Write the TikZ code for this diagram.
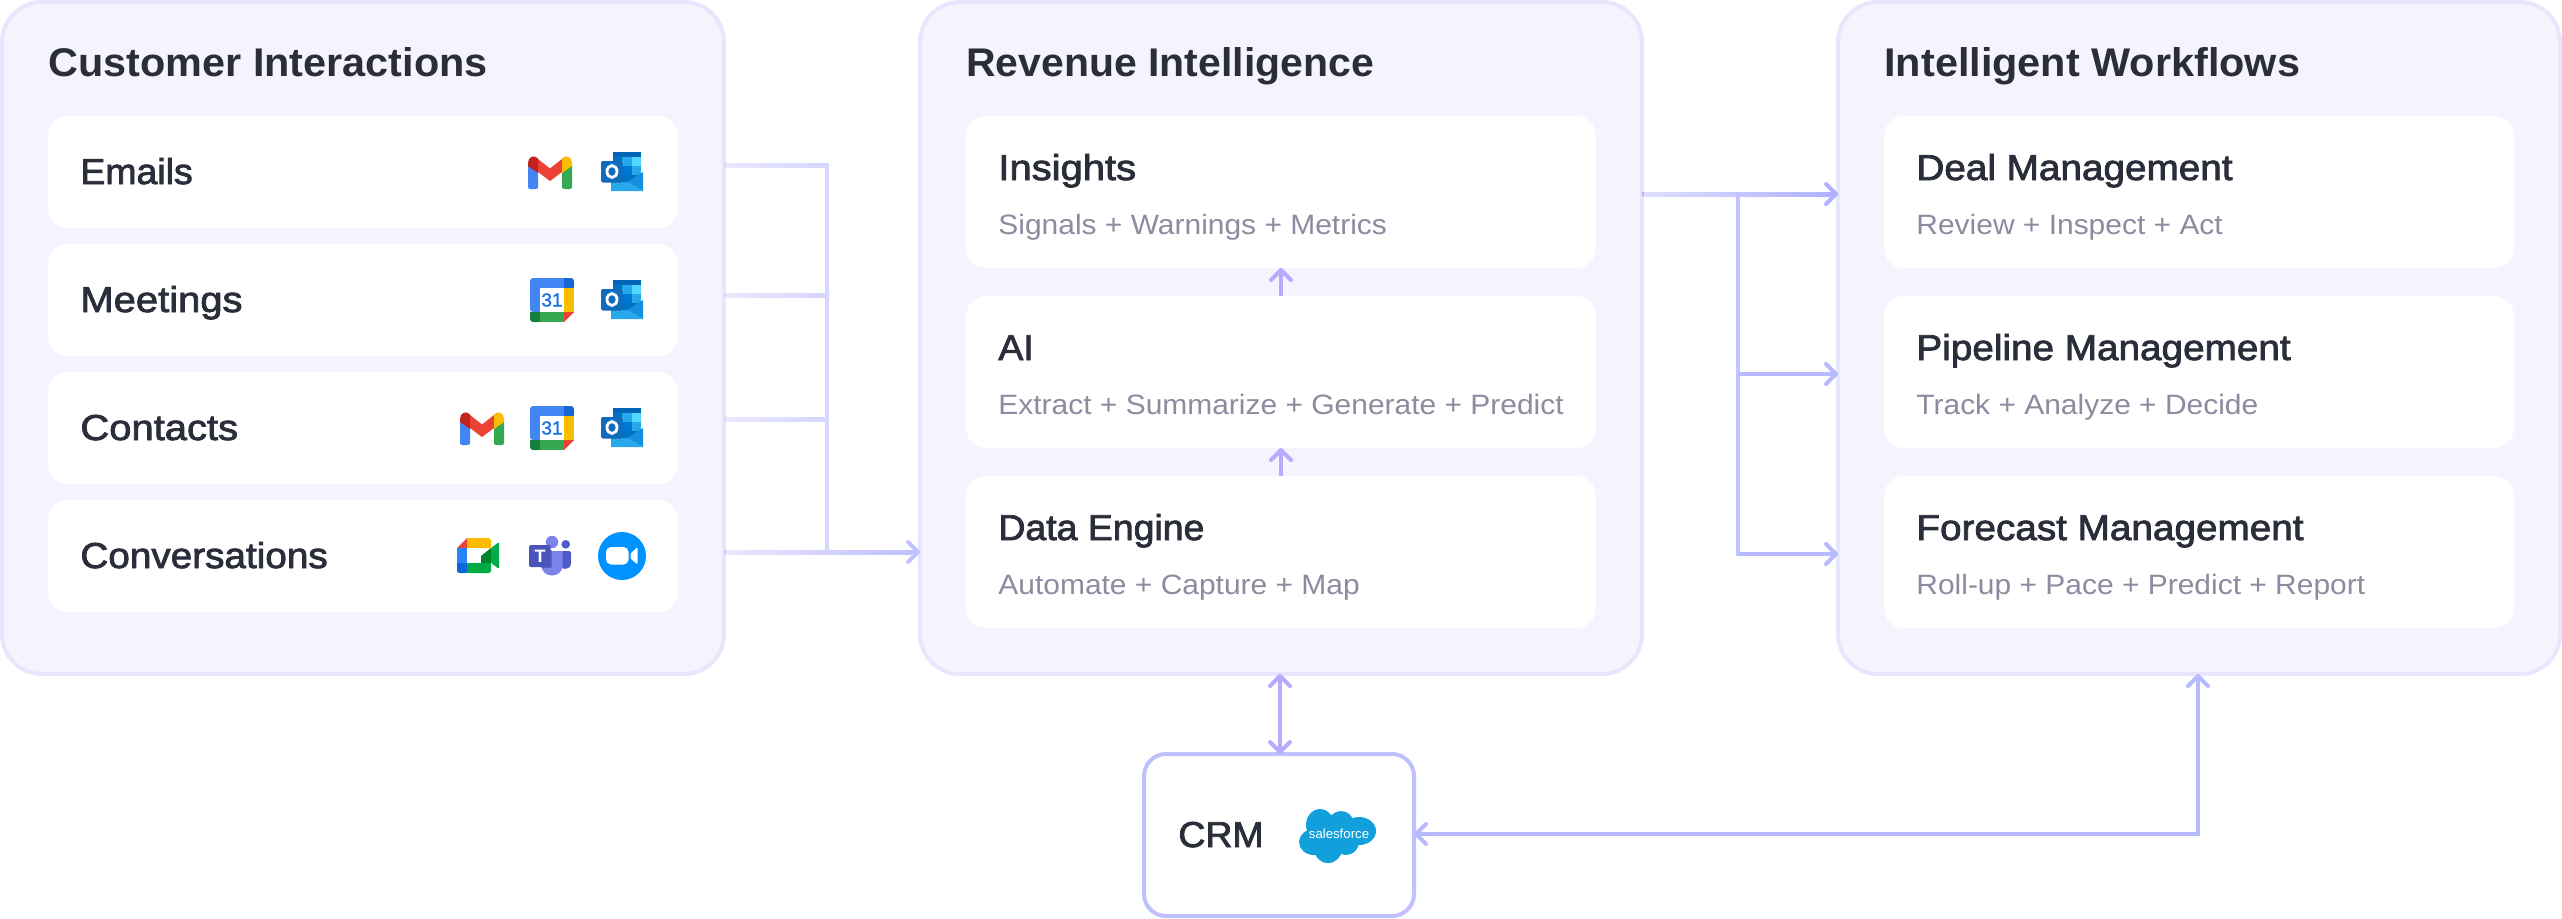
\documentclass[tikz,border=0pt]{standalone}
\usepackage{fontspec}
\usetikzlibrary{arrows.meta,calc}
\newfontfamily\ftitle[FakeStretch=1.035]{Liberation Sans Bold}
\newfontfamily\ftitleb[FakeStretch=1.024]{Liberation Sans Bold}
\newfontfamily\fheadA[FakeBold=2.2,FakeStretch=1.04]{Liberation Sans}
\newfontfamily\fheadB[FakeBold=2.2,FakeStretch=1.075]{Liberation Sans}
\newfontfamily\fheadC[FakeBold=2.2,FakeStretch=1.11]{Liberation Sans}
\newfontfamily\fcal[FakeBold=1.5]{Liberation Sans}
\newfontfamily\fsub[FakeStretch=1.07]{Liberation Sans}
\newfontfamily\fsf{Liberation Sans}
\definecolor{panelfill}{HTML}{F5F3FE}
\definecolor{panelline}{HTML}{E7E6FD}
\definecolor{inkdark}{HTML}{2A2D3A}
\definecolor{inkgrey}{HTML}{8A8CA0}
\definecolor{linea}{HTML}{E9E8FD}
\definecolor{lineb}{HTML}{C0C0FF}
\definecolor{linec}{HTML}{D6D6FE}
\definecolor{lined}{HTML}{DEDEFD}
\definecolor{linee}{HTML}{B0B2FF}
\definecolor{linef}{HTML}{C2C4FF}
\definecolor{lineg}{HTML}{B8BAFF}
\definecolor{lineh}{HTML}{B5ABFF}
\definecolor{gblue}{HTML}{4285F4}
\definecolor{ggreen}{HTML}{34A853}
\definecolor{gred}{HTML}{EA4335}
\definecolor{gdred}{HTML}{C5221F}
\definecolor{gyellow}{HTML}{FBBC04}
\definecolor{gdblue}{HTML}{1967D2}
\definecolor{gdgreen}{HTML}{188038}
\definecolor{gtext}{HTML}{1A73E8}
\definecolor{olA}{HTML}{0364B8}
\definecolor{olB}{HTML}{0072C6}
\definecolor{olC}{HTML}{28A8EA}
\definecolor{olD}{HTML}{50D9FF}
\definecolor{olE}{HTML}{0078D4}
\definecolor{olF}{HTML}{1490DF}
\definecolor{olH}{HTML}{0F6CBD}
\definecolor{mY}{HTML}{FFBA00}
\definecolor{mB}{HTML}{2684FC}
\definecolor{mD}{HTML}{0C67D6}
\definecolor{mG}{HTML}{00AC47}
\definecolor{mK}{HTML}{00832D}
\definecolor{tA}{HTML}{5059C9}
\definecolor{tB}{HTML}{7B83EB}
\definecolor{tC}{HTML}{464EB8}
\definecolor{tD}{HTML}{4B53BC}
\definecolor{zoomblue}{HTML}{0092FF}
\definecolor{sfblue}{HTML}{11A0DB}
\tikzset{
  x=0.5pt,y=-0.5pt,
  panel/.style={draw=panelline,fill=panelfill,line width=2pt,rounded corners=20pt,inner sep=0pt,outer sep=0pt,minimum width=361pt,minimum height=336pt,anchor=north west},
  card/.style={fill=white,rounded corners=10pt,inner sep=0pt,outer sep=0pt,anchor=north west},
  smallcard/.style={card,minimum width=315pt,minimum height=56pt},
  bigcard/.style={card,minimum width=315pt,minimum height=76pt},
  crmbox/.style={draw=lineb,fill=white,line width=2pt,rounded corners=11pt,inner sep=0pt,outer sep=0pt,minimum width=135pt,minimum height=81pt,anchor=north west},
  titletext/.style={anchor=base west,inner sep=0pt,text=inkdark,font=\ftitle\fontsize{20}{24}\selectfont},
  titletextb/.style={anchor=base west,inner sep=0pt,text=inkdark,font=\ftitleb\fontsize{20}{24}\selectfont},
  headA/.style={anchor=base west,inner sep=0pt,text=inkdark,font=\fheadA\fontsize{18}{22}\selectfont},
  headB/.style={anchor=base west,inner sep=0pt,text=inkdark,font=\fheadB\fontsize{18}{22}\selectfont},
  headC/.style={anchor=base west,inner sep=0pt,text=inkdark,font=\fheadC\fontsize{18}{22}\selectfont},
  subtext/.style={anchor=base west,inner sep=0pt,text=inkgrey,font=\fsub\fontsize{14}{17}\selectfont},
  tip/.style={-{Straight Barb[round,length=5pt,width=10pt,line width=2pt]}},
  tips/.style={{Straight Barb[round,length=5pt,width=10pt,line width=2pt]}-{Straight Barb[round,length=5pt,width=10pt,line width=2pt]}},
  wire/.style={line width=2pt},
}
% icons: local coordinates in reference pixels
\newcommand{\gmailicon}[2]{\begin{scope}[shift={(#1,#2)}]
  \fill[gblue,rounded corners=1pt] (0,8) -- (0,33) -- (10,33) -- (10,8) -- cycle;
  \fill[ggreen,rounded corners=1pt] (44,8) -- (44,33) -- (34,33) -- (34,8) -- cycle;
  \fill[gred] (10,3) -- (22,12.5) -- (34,3) -- (34,16) -- (22,25) -- (10,16) -- cycle;
  \fill[gdred] (0,10) -- (0,7) .. controls (0,1) and (6,-2) .. (10,2.5) -- (10,17) -- cycle;
  \fill[gyellow] (44,10) -- (44,7) .. controls (44,1) and (38,-2) .. (34,2.5) -- (34,17) -- cycle;
\end{scope}}
\newcommand{\outlookicon}[2]{\begin{scope}[shift={(#1,#2)}]
  \fill[olB] (12,4) rectangle (40,31);
  \fill[olA] (12,0) rectangle (40,5);
  \fill[olC] (21,5) rectangle (31,14);
  \fill[olD] (31,5) rectangle (40,14);
  \fill[olE] (21,14) rectangle (31,23);
  \fill[olC] (31,14) rectangle (40,23);
  \fill[olF] (42,20) -- (42,39) -- (26,30) -- cycle;
  \fill[olC] (10,30) -- (26,30) -- (42,39) -- (10,39) -- cycle;
  \fill[olH,rounded corners=1pt] (0,9) rectangle (21.5,30.5);
  \draw[white,line width=1.4pt] (11,19.5) ellipse[x radius=5,y radius=6];
\end{scope}}
\newcommand{\gcalicon}[2]{\begin{scope}[shift={(#1,#2)}]
  \fill[gblue,rounded corners=1.5pt] (0,0) -- (34,0) -- (34,34) -- (0,34) -- cycle;
  \fill[gblue] (10,0) rectangle (34,34);
  \fill[gdblue,rounded corners=1.5pt] (34,0) -- (44,0) -- (44,10) -- (34,10) -- cycle;
  \fill[gdblue] (34,0) rectangle (38,10);
  \fill[gdblue] (34,5) rectangle (44,10);
  \fill[gyellow] (34,10) rectangle (44,34);
  \fill[ggreen] (10,34) rectangle (34,44);
  \fill[gdgreen,rounded corners=1.5pt] (0,34) -- (10,34) -- (10,44) -- (0,44) -- cycle;
  \fill[gdgreen] (5,34) rectangle (10,44);
  \fill[gdgreen] (0,34) rectangle (10,38);
  \fill[gred] (34,34) -- (44,34) -- (34,44) -- cycle;
  \fill[white] (10,10) rectangle (34,34);
  \node[inner sep=0pt,text=gtext,font=\fcal\fontsize{9.5}{10}\selectfont] at (22,22) {31};
\end{scope}}
\newcommand{\meeticon}[2]{\begin{scope}[shift={(#1,#2)}]
  \fill[mY] (10,0) -- (32,0) -- (34,2) -- (34,10) -- (10,10) -- cycle;
  \fill[gred] (0,10) -- (10,0) -- (10,10) -- cycle;
  \fill[mB] (0,10) rectangle (10,25);
  \fill[mD,rounded corners=1.2pt] (0,25) -- (10,25) -- (10,35) -- (0,35) -- cycle;
  \fill[mD] (5,25) rectangle (10,35);
  \fill[mD] (0,25) rectangle (10,30);
  \fill[mG,rounded corners=1.2pt] (10,25) -- (34,25) -- (34,35) -- (10,35) -- cycle;
  \fill[mG] (10,25) rectangle (25,35);
  \fill[mG] (10,25) rectangle (34,30);
  \fill[white] (10,10) rectangle (24,25);
  \fill[mK] (24,18) -- (34,10) -- (34,25) -- (24,25) -- cycle;
  \fill[mG,rounded corners=.6pt] (34,10) -- (42,4) -- (42,31) -- (34,25) -- cycle;
\end{scope}}
\newcommand{\teamsicon}[2]{\begin{scope}[shift={(#1,#2)}]
  \fill[tA] (36.7,8.3) circle[radius=4.3];
  \fill[tA,rounded corners=1pt] (30,15) -- (42,15) -- (42,25) .. controls (42,35) and (30,35) .. (30,25) -- cycle;
  \fill[tB] (23,6) circle[radius=6.2];
  \fill[tB] (12.3,15) -- (33.7,15) -- (33.7,29) .. controls (33.7,43) and (12.3,43) .. (12.3,29) -- cycle;
  \fill[tC,opacity=.55] (12.3,14) rectangle (22.5,32);
  \fill[tD,rounded corners=1pt] (0,9) rectangle (21.7,31);
  \node[inner sep=0pt,text=white,font=\fsf\bfseries\fontsize{9}{10}\selectfont] at (11,20) {T};
\end{scope}}
\newcommand{\zoomicon}[2]{\begin{scope}[shift={(#1,#2)}]
  \fill[zoomblue] (0,0) circle[radius=24];
  \fill[white,rounded corners=2.5pt] (-16,-9) rectangle (6.5,8.5);
  \fill[white,rounded corners=.6pt] (8.5,-2.5) -- (15.5,-9) -- (15.5,8.5) -- (8.5,2.5) -- cycle;
\end{scope}}
\newcommand{\sficon}[2]{\begin{scope}[shift={(#1,#2)}]
  \fill[sfblue]
    (21,16) ellipse[x radius=14,y radius=16]
    (42,15) ellipse[x radius=13,y radius=13]
    (60,22) ellipse[x radius=17,y radius=14]
    (15,33) ellipse[x radius=15,y radius=13]
    (29,40) ellipse[x radius=14,y radius=14]
    (47,33) ellipse[x radius=13,y radius=13]
    (38,25) ellipse[x radius=30,y radius=14];
  \node[inner sep=0pt,anchor=base,text=white,font=\fsf\fontsize{6.6}{8}\selectfont] at (40,29) {salesforce};
\end{scope}}
\begin{document}
\begin{tikzpicture}
\useasboundingbox (0,0) rectangle (2562,918);
\node[panel] (p1) at (2,2) {};
\node[panel] (p2) at (920,2) {};
\node[panel] (p3) at (1838,2) {};

\node[titletext] (t1) at (48,76) {Customer Interactions};
\node[titletextb] (t2) at (966,76) {Revenue Intelligence};
\node[titletext] (t3) at (1884,76) {Intelligent Workflows};

\node[smallcard] (c1) at (48,116) {};
\node[smallcard] (c2) at (48,244) {};
\node[smallcard] (c3) at (48,372) {};
\node[smallcard] (c4) at (48,500) {};
\node[headA] (c1t) at (80,184) {Emails};
\node[headC] (c2t) at (80,312) {Meetings};
\node[headC] (c3t) at (80,440) {Contacts};
\node[headB] (c4t) at (80,568) {Conversations};

\node[bigcard] (r1) at (966,116) {};
\node[bigcard] (r2) at (966,296) {};
\node[bigcard] (r3) at (966,476) {};
\node[headC] (r1t) at (998,180) {Insights};
\node[subtext] (r1s) at (998,234) {Signals + Warnings + Metrics};
\node[headA] (r2t) at (998,360) {AI};
\node[subtext] (r2s) at (998,414) {Extract + Summarize + Generate + Predict};
\node[headA] (r3t) at (998,540) {Data Engine};
\node[subtext] (r3s) at (998,594) {Automate + Capture + Map};

\node[bigcard] (w1) at (1884,116) {};
\node[bigcard] (w2) at (1884,296) {};
\node[bigcard] (w3) at (1884,476) {};
\node[headB] (w1t) at (1916,180) {Deal Management};
\node[subtext] (w1s) at (1916,234) {Review + Inspect + Act};
\node[headB] (w2t) at (1916,360) {Pipeline Management};
\node[subtext] (w2s) at (1916,414) {Track + Analyze + Decide};
\node[headB] (w3t) at (1916,540) {Forecast Management};
\node[subtext] (w3s) at (1916,594) {Roll-up + Pace + Predict + Report};

\node[crmbox] (crm) at (1144,754) {};
\node[headA] (crmt) at (1178,847) {CRM};

% junction coordinates
\coordinate (la) at (p1.east|-0,165);
\coordinate (lb) at (p1.east|-0,295);
\coordinate (lc) at (p1.east|-0,419);
\coordinate (ld) at (p1.east|-0,552);
\coordinate (lbus) at (827,552);
\coordinate (lbustop) at (827,165);
\coordinate (lend) at (p2.west|-0,552);
\coordinate (ra) at (p2.east|-0,194);
\coordinate (rend) at (p3.west|-0,194);
\coordinate (rbustop) at (1738,194);
\coordinate (rbusmid) at (1738,374);
\coordinate (rbusbot) at (1738,554);
\coordinate (rmidend) at (p3.west|-0,374);
\coordinate (rbotend) at (p3.west|-0,554);
\coordinate (crmr) at (crm.east|-0,834);
\coordinate (elbow) at (2198,834);
\coordinate (p3b) at (2198,674);
\coordinate (crmtop) at (1280,754);
\coordinate (p2b) at (1280,674);

% input wires
\draw[wire,color=linec] (la) -- (lbustop) -- (lbus);
\draw[wire,color=linec] (lb) -- (lb-|lbus);
\draw[wire,color=linec] (lc) -- (lc-|lbus);
\shade[left color=linea,right color=linec] (726,163) rectangle (825,167);
\shade[left color=linea,right color=linec] (726,293) rectangle (825,297);
\shade[left color=linea,right color=linec] (726,417) rectangle (825,421);
\draw[wire,color=lineb,tip] (ld) -- (lend);
\shade[left color=linea,right color=lineb] (726,550) rectangle (912,554);

% output wires
\draw[wire,color=linee,tip] (ra) -- (rend);
\shade[left color=lined,right color=linee] (1644,192) rectangle (1830,196);
\draw[wire,color=linef,line cap=rect] (rbustop) -- (rbusbot);
\draw[wire,color=lineg,tip] (rbusmid) -- (rmidend);
\draw[wire,color=lineg,tip] (rbusbot) -- (rbotend);

% internal arrows
\draw[wire,color=lineh,tip] (r3.north) -- (r2.south);
\draw[wire,color=lineh,tip] (r2.north) -- (r1.south);

% CRM arrows
\draw[wire,color=lineh,tips] (p2b) -- (crmtop);
\draw[wire,color=lineg,tips] (crmr) -- (elbow) -- (p3b);

% icons
\gmailicon{528}{156}\outlookicon{601}{152}
\gcalicon{530}{278}\outlookicon{601}{280}
\gmailicon{460}{412}\gcalicon{530}{406}\outlookicon{601}{408}
\meeticon{457}{538}\teamsicon{529}{536}\zoomicon{622}{556}
\sficon{1299}{809}
\end{tikzpicture}
\end{document}
